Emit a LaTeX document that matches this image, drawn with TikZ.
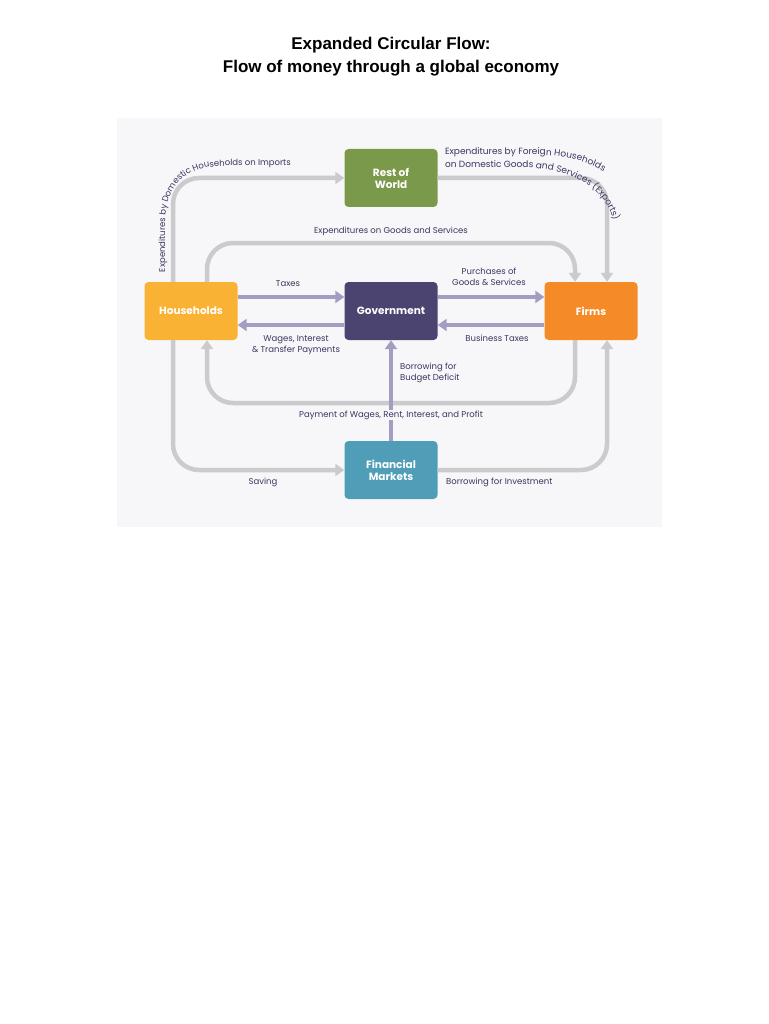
\documentclass[tikz,border=0pt]{standalone}
\usepackage{fontspec}
\setmainfont{Poppins}
\newfontfamily\titlefont{Liberation Sans}
\usetikzlibrary{arrows.meta,decorations.text}
\definecolor{bgp}{HTML}{F7F7F9}
\definecolor{flowg}{HTML}{CBCBCD}
\definecolor{flowp}{HTML}{A29EC2}
\definecolor{txt}{HTML}{3A3660}
\definecolor{cRow}{HTML}{7B994A}
\definecolor{cHH}{HTML}{F9B234}
\definecolor{cGov}{HTML}{4B4370}
\definecolor{cFirm}{HTML}{F58B26}
\definecolor{cFin}{HTML}{4F9DB6}
\begin{document}
\begin{tikzpicture}[x=1pt,y=-1pt,
  box/.style={draw=none,rounded corners=4pt,minimum width=93pt,minimum height=58pt,text=white,font=\fontsize{10.5}{12}\selectfont\bfseries,align=center},
  gflow/.style={draw=flowg,line width=4.5pt,rounded corners=26pt,-{Triangle[length=9pt,width=12pt]}},
  pflow/.style={draw=flowp,line width=4pt,-{Triangle[length=9pt,width=12pt]}},
  lab/.style={text=txt,font=\fontsize{8.5}{11}\selectfont,align=center,inner sep=1pt}]
\useasboundingbox (0,0) rectangle (768,1024);
\fill[bgp] (117,118) rectangle (662,527);
\node[font=\titlefont\fontsize{17}{23}\selectfont\bfseries,align=center] (title) at (391,57) {Expanded Circular Flow:\\Flow of money through a global economy};
\node[box,fill=cRow] (row) at (391,178) {Rest of\\World};
\node[box,fill=cHH] (hh) at (191,311) {Households};
\node[box,fill=cGov] (gov) at (391,311) {Government};
\node[box,fill=cFirm] (firm) at (591,311) {Firms};
\node[box,fill=cFin] (fin) at (391,470) {Financial\\Markets};
% gray flows
\draw[gflow] ([xshift=-18pt]hh.north) |- (row.west);
\draw[gflow] (row.east) -| ([xshift=16pt]firm.north);
\draw[gflow] ([xshift=16pt]hh.north) |- (391,243) -| ([xshift=-16pt]firm.north);
\draw[gflow] ([xshift=-16pt]firm.south) |- (391,403) -| ([xshift=16pt]hh.south);
\draw[gflow] ([xshift=-18pt]hh.south) |- (fin.west);
\draw[gflow] (fin.east) -| ([xshift=16pt]firm.south);
% purple flows
\draw[pflow] ([yshift=14pt]hh.east) -- ([yshift=14pt]gov.west);
\draw[pflow] ([yshift=-14pt]gov.west) -- ([yshift=-14pt]hh.east);
\draw[pflow] ([yshift=14pt]gov.east) -- ([yshift=14pt]firm.west);
\draw[pflow] ([yshift=-14pt]firm.west) -- ([yshift=-14pt]gov.east);
\draw[pflow] (fin.north) -- (gov.south);
% labels
\node[lab] (l1) at (391,231) {Expenditures on Goods and Services};
\node[lab] (l2) at (288,284) {Taxes};
\node[lab] (l3) at (489,277) {Purchases of\\Goods \& Services};
\node[lab] (l4) at (296,345) {Wages, Interest\\\& Transfer Payments};
\node[lab] (l5) at (497,338) {Business Taxes};
\node[lab,anchor=west,align=left] (l6) at (399,373) {Borrowing for\\Budget Deficit};
\node[lab,fill=bgp,inner xsep=3pt] (l7) at (391,415) {Payment of Wages, Rent, Interest, and Profit};
\node[lab] (l8) at (263,482) {Saving};
\node[lab,anchor=west] (l9) at (445,482) {Borrowing for Investment};
% curved labels
\path[decorate,decoration={text along path,text color=txt,text={|\fontsize{8.5}{10}\selectfont|Expenditures by Domestic Households on Imports}}]
  (165,272) -- (165,225) .. controls (165,185) and (185,166) .. (225,166) -- (345,166);
\path[decorate,decoration={text along path,text color=txt,text={|\fontsize{9}{10}\selectfont|Expenditures by Foreign Households}}]
  (445,155) -- (545,155) .. controls (580,157) and (606,168) .. (622,188);
\path[decorate,decoration={text along path,text color=txt,text={|\fontsize{9}{10}\selectfont|on Domestic Goods and Services (Exports)}}]
  (445,168) -- (530,168) .. controls (585,171) and (614,196) .. (617,240);
\end{tikzpicture}
\end{document}
